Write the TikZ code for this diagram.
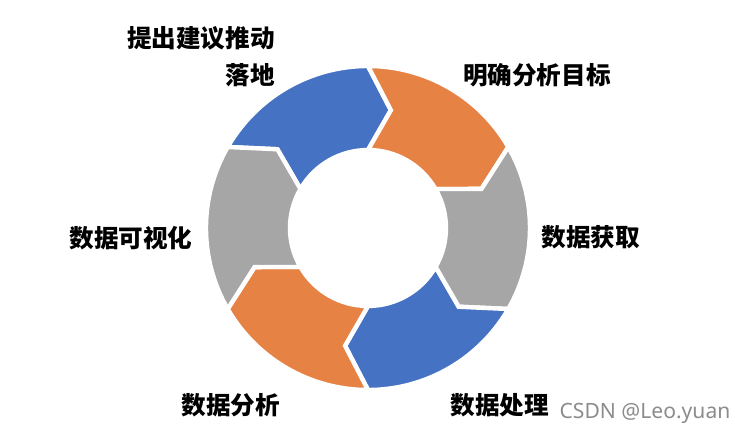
\documentclass[tikz,border=0pt]{standalone}
\usepackage{fontspec}
\setmainfont{Noto Sans}
\newfontfamily\cjk{Noto Sans CJK SC}
\usepackage{tikz}
\usetikzlibrary{calc}
\usetikzlibrary{positioning}

\definecolor{segblue}{RGB}{70,114,196}
\definecolor{segorange}{RGB}{230,130,68}
\definecolor{seggray}{RGB}{166,166,166}

\begin{document}
\begin{tikzpicture}[
        x=0.02cm, y=0.02cm,
        seg/.style={draw=white, line width=2.5pt, line join=miter},
        label/.style={font=\cjk\bfseries\fontsize{14}{21}\selectfont, inner sep=0, align=right},
        wmark/.style={font=\fontsize{12}{14}\selectfont, text=black!45, inner sep=0}
    ]
        \useasboundingbox (-368,-211) rectangle (367,228);

        % 圆环参数:外半径/内半径/中线半径/箭头尖角度
        \def\Rout{162}
        \def\Rin{78}
        \def\Rmid{120}
        \def\tip{11}

        % 六段箭头:起始角/颜色
        \def\segments{%
            150/segblue,
            90/segorange,
            30/seggray,
            -30/segblue,
            -90/segorange,
            -150/seggray%
        }

        % 绘制箭头段(顺时针)
        \foreach \b/\col in \segments {
            \pgfmathsetmacro\e{\b-60}
            \fill[seg, fill=\col] (\b:\Rout) arc[start angle=\b, end angle=\e, radius=\Rout]
                -- ({\e-\tip}:\Rmid) -- (\e:\Rin)
                arc[start angle=\e, end angle=\b, radius=\Rin]
                -- ({\b-\tip}:\Rmid) -- cycle;
        }

        % 文字标签
        \node[label, anchor=east] (propose) at (-93,171.5) {提出建议推动\\落地};
        \node[label] (goal) at (169,153) {明确分析目标};
        \node[label] (acquire) at (223,-9) {数据获取};
        \node[label] (process) at (132,-177) {数据处理};
        \node[label] (analyse) at (-137,-177) {数据分析};
        \node[label] (visual) at (-237,-10) {数据可视化};

        % 水印
        \node[wmark] (watermark) at (277,-185) {CSDN @Leo.yuan};

    \end{tikzpicture}
\end{document}
